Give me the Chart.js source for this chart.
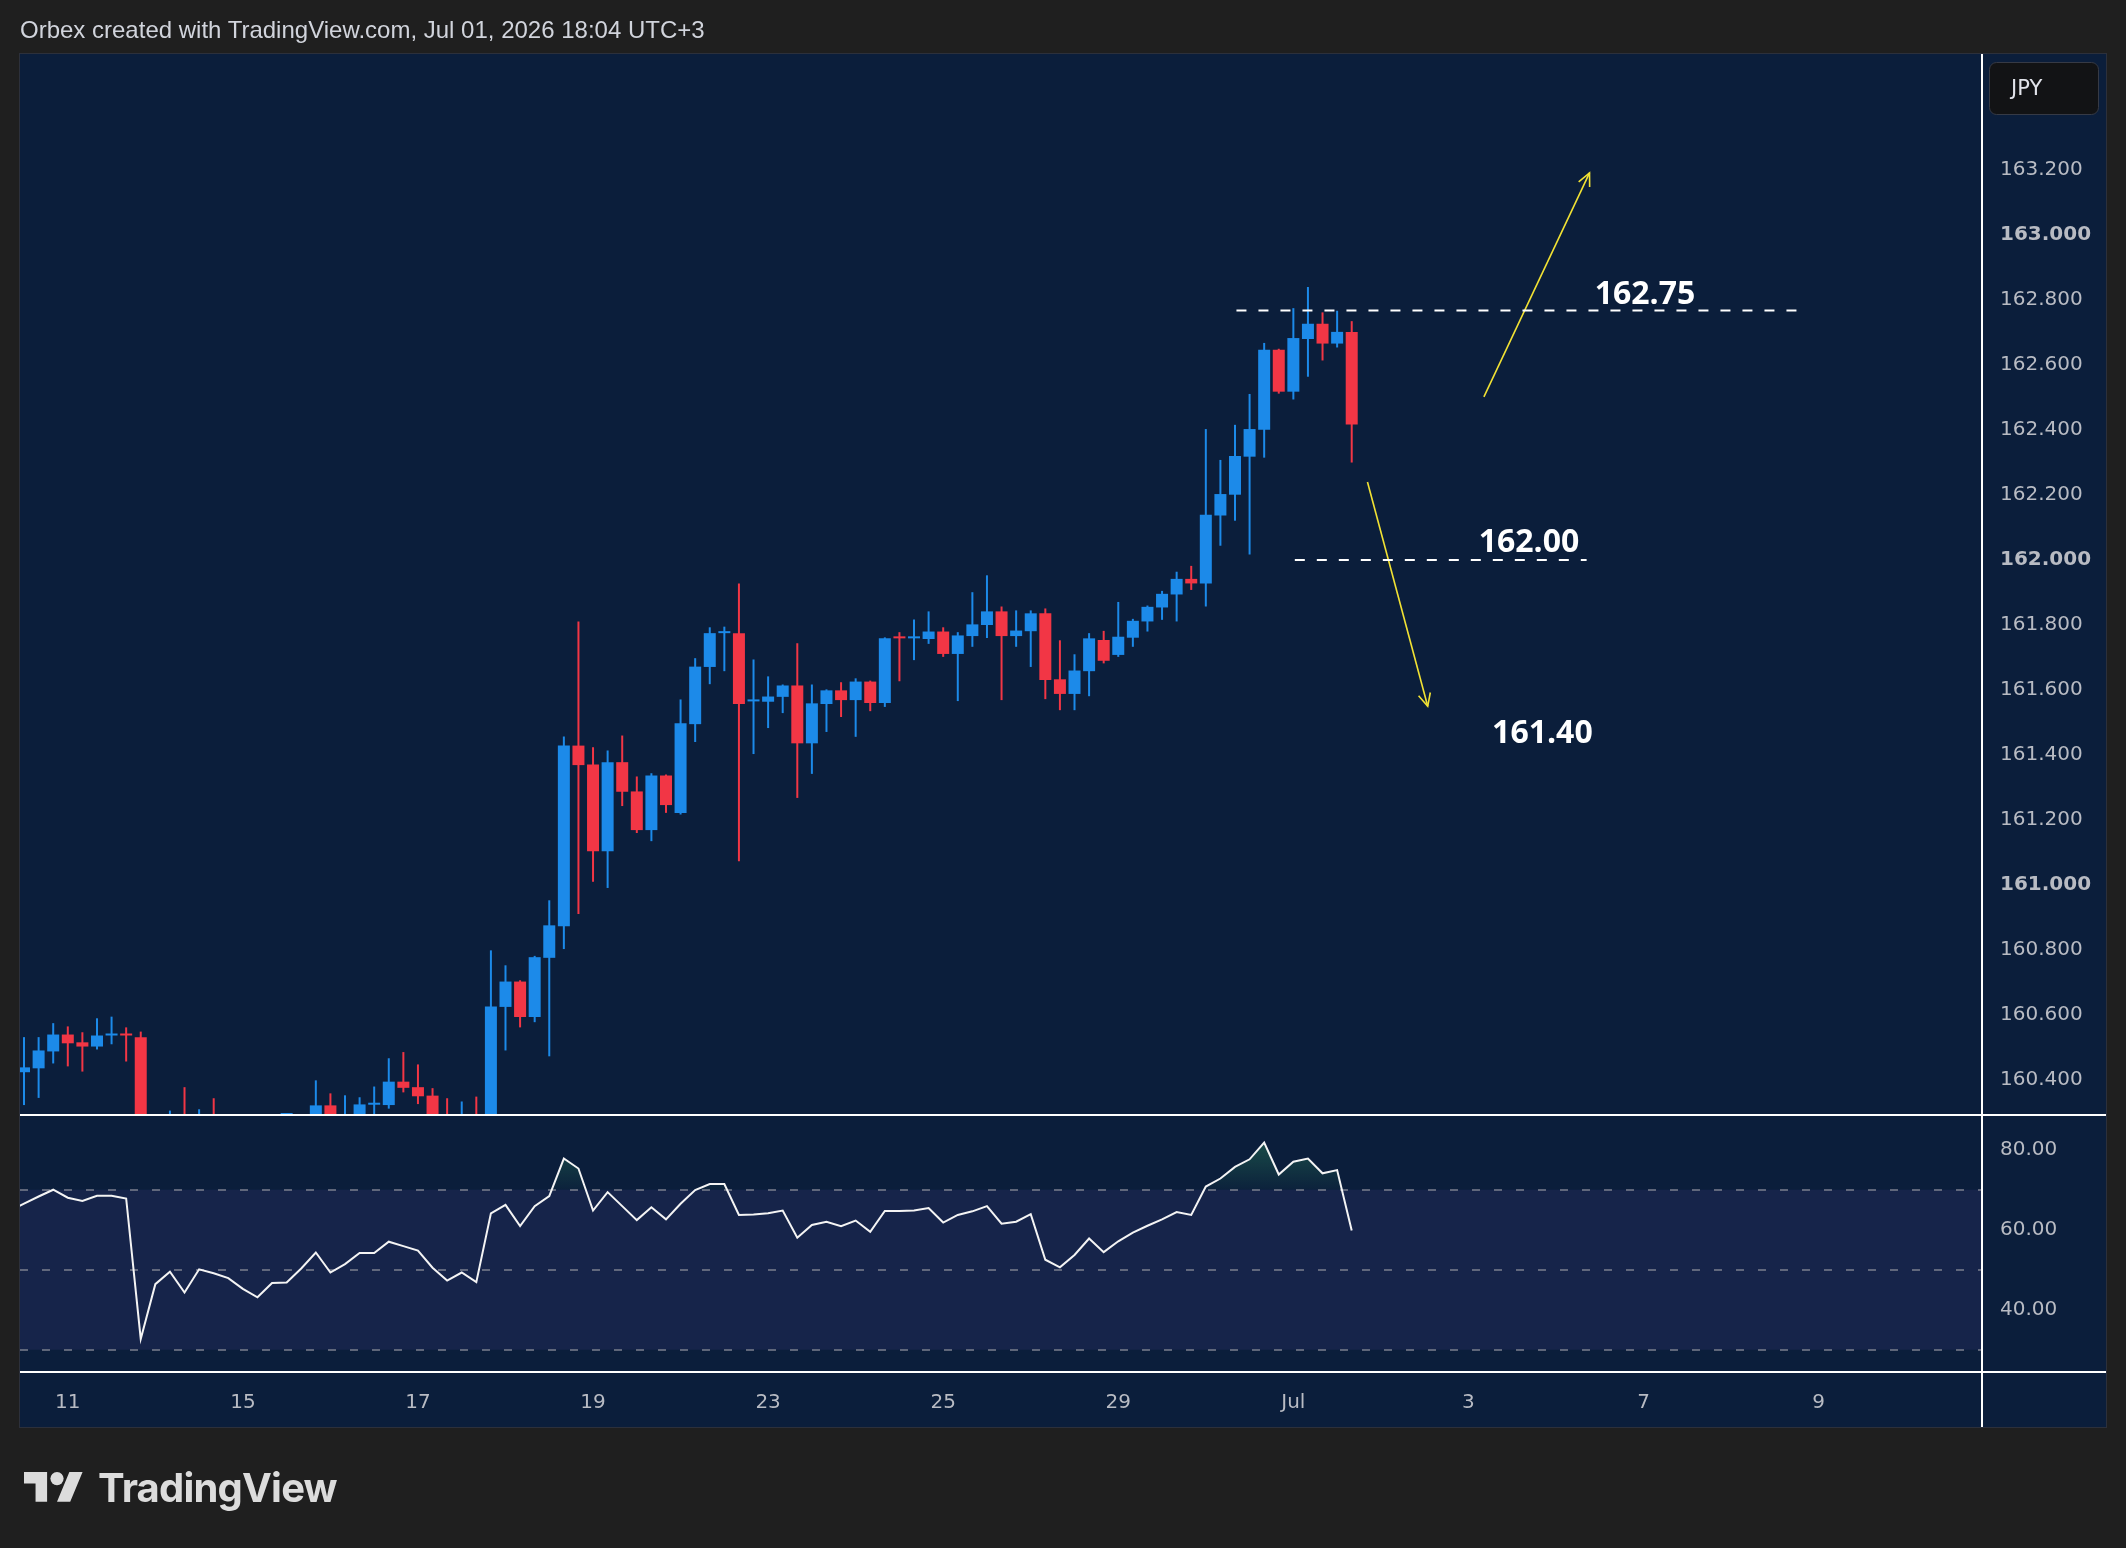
<!DOCTYPE html>
<html>
<head>
<meta charset="utf-8">
<title>JPY 4H</title>
<script src="https://cdn.jsdelivr.net/npm/chart.js@4.4.1/dist/chart.umd.min.js"></script>
<style>
  html, body { margin: 0; padding: 0; width: 2126px; height: 1548px; background: #1f1f1f; overflow: hidden; }
  #pane { position: absolute; left: 20px; top: 54px; width: 2086px; height: 1373px; background: #0b1e3b; box-shadow: 0 0 0 1px #2c303b; }
  #chart { position: absolute; left: 0; top: 0; }
  #overlay { position: absolute; left: 0; top: 0; }
</style>
</head>
<body>
<div id="pane"><canvas id="chart" width="2086" height="1373"></canvas></div>
<svg id="overlay" width="2126" height="1548">
  <text x="20" y="38" font-family="Liberation Sans" font-size="24" fill="#d1d4dc">Orbex created with TradingView.com, Jul 01, 2026 18:04 UTC+3</text>
  <rect x="1989.5" y="62.5" width="109" height="52" rx="7" fill="#121315" stroke="#363a45"/>
  <text x="2011" y="95" font-family="DejaVu Sans" font-size="21" fill="#e1e3ea">JPY</text>
  <g transform="translate(24,1472) scale(1.65) translate(0,-4)" fill="#dcdcdc">
    <path d="M14 22H7V11H0V4h14v18zM28 22h-8l7.5-18h8L28 22z"/>
    <circle cx="20" cy="8" r="4"/>
  </g>
  <text x="98" y="1502" font-family="Inter" font-weight="700" font-size="40" letter-spacing="-0.8" fill="#dcdcdc">TradingView</text>
</svg>
<script>
/**
 * 4H candles with RSI pane, TradingView-style dark navy theme.
 * Bar index 0 is the first 4H bar of Jun 11; six bars per day.
 */

var FIRST_BAR = -3;

var openPrices = [
  160.422, 160.434, 160.486, 160.538, 160.514, 160.501, 160.535, 160.537, 160.530, 160.050,
  160.180, 160.240, 160.150, 160.250, 160.230, 160.200, 160.140, 160.100, 160.170, 160.175,
  160.240, 160.320, 160.230, 160.270, 160.322, 160.321, 160.393, 160.376, 160.350, 160.260,
  160.230, 160.260, 160.240, 160.623, 160.701, 160.592, 160.774, 160.871, 161.427, 161.369,
  161.102, 161.376, 161.286, 161.167, 161.335, 161.220, 161.493, 161.669, 161.773, 161.773,
  161.563, 161.562, 161.577, 161.612, 161.434, 161.555, 161.597, 161.567, 161.624, 161.558,
  161.759, 161.757, 161.755, 161.778, 161.709, 161.764, 161.798, 161.840, 161.764, 161.779,
  161.834, 161.631, 161.586, 161.656, 161.752, 161.706, 161.759, 161.809, 161.852, 161.892,
  161.940, 161.926, 162.135, 162.199, 162.316, 162.399, 162.645, 162.516, 162.678, 162.725,
  162.664, 162.700
];
var highPrices = [
  160.530, 160.530, 160.573, 160.563, 160.545, 160.588, 160.593, 160.560, 160.547, 160.240,
  160.304, 160.376, 160.308, 160.342, 160.270, 160.240, 160.180, 160.210, 160.220, 160.270,
  160.397, 160.357, 160.351, 160.345, 160.378, 160.465, 160.484, 160.446, 160.373, 160.342,
  160.332, 160.347, 160.797, 160.751, 160.705, 160.780, 160.951, 161.455, 161.809, 161.422,
  161.412, 161.458, 161.332, 161.342, 161.338, 161.569, 161.696, 161.791, 161.793, 161.926,
  161.692, 161.640, 161.615, 161.742, 161.615, 161.600, 161.622, 161.634, 161.627, 161.760,
  161.776, 161.815, 161.840, 161.791, 161.776, 161.899, 161.951, 161.855, 161.843, 161.843,
  161.849, 161.751, 161.708, 161.773, 161.780, 161.869, 161.817, 161.858, 161.903, 161.962,
  161.980, 162.401, 162.306, 162.414, 162.509, 162.666, 162.648, 162.773, 162.838, 162.760,
  162.765, 162.733
];
var lowPrices = [
  160.321, 160.343, 160.449, 160.440, 160.424, 160.492, 160.508, 160.455, 160.000, 160.020,
  160.140, 160.120, 160.130, 160.190, 160.160, 160.100, 160.060, 160.080, 160.130, 160.150,
  160.210, 160.200, 160.200, 160.240, 160.293, 160.310, 160.360, 160.324, 160.240, 160.200,
  160.200, 160.210, 160.220, 160.489, 160.560, 160.576, 160.471, 160.801, 160.909, 161.008,
  160.989, 161.241, 161.158, 161.133, 161.220, 161.215, 161.438, 161.616, 161.656, 161.071,
  161.401, 161.481, 161.527, 161.266, 161.340, 161.469, 161.515, 161.454, 161.533, 161.546,
  161.625, 161.690, 161.740, 161.700, 161.564, 161.731, 161.758, 161.567, 161.731, 161.669,
  161.570, 161.536, 161.536, 161.579, 161.680, 161.700, 161.731, 161.778, 161.814, 161.809,
  161.906, 161.855, 162.042, 162.119, 162.015, 162.313, 162.510, 162.492, 162.562, 162.612,
  162.652, 162.298
];
var closePrices = [
  160.437, 160.489, 160.538, 160.511, 160.501, 160.535, 160.537, 160.535, 160.050, 160.180,
  160.240, 160.150, 160.250, 160.230, 160.200, 160.140, 160.100, 160.170, 160.175, 160.240,
  160.320, 160.230, 160.270, 160.323, 160.325, 160.393, 160.374, 160.348, 160.260, 160.230,
  160.260, 160.240, 160.624, 160.701, 160.592, 160.776, 160.874, 161.427, 161.367, 161.102,
  161.376, 161.285, 161.167, 161.335, 161.244, 161.496, 161.670, 161.773, 161.775, 161.555,
  161.565, 161.578, 161.612, 161.434, 161.557, 161.597, 161.567, 161.624, 161.558, 161.757,
  161.757, 161.759, 161.778, 161.709, 161.766, 161.800, 161.840, 161.764, 161.781, 161.834,
  161.629, 161.586, 161.658, 161.757, 161.688, 161.762, 161.811, 161.854, 161.894, 161.940,
  161.926, 162.137, 162.201, 162.318, 162.401, 162.645, 162.516, 162.681, 162.725, 162.664,
  162.700, 162.415
];

// RSI(14), one value per bar starting one bar before the first candle
var RSI_FIRST_BAR = -4;
var rsiValues = [
  64.7, 66.5, 68.3, 70.0, 68.0, 67.2, 68.5, 68.5, 67.8, 32.7,
  46.4, 49.5, 44.3, 50.1, 49.1, 47.9, 45.2, 43.1, 46.7, 46.8,
  50.3, 54.3, 49.3, 51.4, 54.2, 54.2, 57.0, 55.9, 54.8, 50.5,
  47.3, 49.3, 46.9, 64.1, 66.2, 60.9, 65.9, 68.4, 77.8, 75.3,
  64.8, 69.4, 65.9, 62.4, 65.6, 62.6, 66.5, 69.9, 71.4, 71.4,
  63.7, 63.8, 64.1, 64.8, 58.0, 61.2, 62.0, 60.9, 62.3, 59.5,
  64.7, 64.7, 64.8, 65.4, 61.8, 63.7, 64.6, 65.9, 61.5, 62.0,
  63.9, 52.5, 50.6, 53.7, 57.8, 54.4, 57.1, 59.3, 61.0, 62.6,
  64.4, 63.7, 70.8, 72.8, 75.7, 77.6, 81.8, 73.8, 77.0, 77.8,
  74.1, 74.9, 59.8
];

var dayTicks = [0, 12, 24, 36, 48, 60, 72, 84, 96, 108, 120];
var dayLabels = ['11', '15', '17', '19', '23', '25', '29', 'Jul', '3', '7', '9'];
var priceTicks = [160.4, 160.6, 160.8, 161.0, 161.2, 161.4, 161.6, 161.8, 162.0, 162.2, 162.4, 162.6, 162.8, 163.0, 163.2];
var rsiTicks = [40, 60, 80];
var rsiBands = [70, 50, 30];

// drawn levels and notes (bar index / price)
var levelPrices = [162.766, 161.998];
var levelFrom = [80.1, 84.1];
var levelTo = [118.6, 104.1];
var arrowStart = [[97.06, 162.500], [89.08, 162.238]];
var arrowEnd = [[104.3, 163.189], [93.21, 161.548]];
var noteText = ['162.75', '162.00', '161.40'];
var noteBar = [108.1, 100.15, 101.07];
var notePrice = [162.786, 162.022, 161.435];

var X_MIN = -3.276, X_MAX = 131.2;
var PRICE_MIN = 160.2904, PRICE_MAX = 163.555;
var RSI_MIN = 24.43, RSI_MAX = 88.68;

var UP = '#1c8ae9';
var DOWN = '#f23645';
var AXIS_TEXT = '#b8bbc3';
var FONT = 'DejaVu Sans';

function barIndex(k) { return FIRST_BAR + k; }

var bodies = openPrices.map(function (o, k) {
  return { x: barIndex(k), y: [o, closePrices[k]] };
});
var wicks = lowPrices.map(function (l, k) {
  return { x: barIndex(k), y: [l, highPrices[k]] };
});
var candleColors = openPrices.map(function (o, k) {
  return closePrices[k] >= o ? UP : DOWN;
});
var rsiPoints = rsiValues.map(function (v, k) {
  return { x: RSI_FIRST_BAR + k, y: v };
});

function lineSet(points, color, width, dash) {
  return {
    type: 'line',
    data: points,
    yAxisID: 'y',
    borderColor: color,
    borderWidth: width,
    borderDash: dash || [],
    pointRadius: 0,
    fill: false,
    order: -2,
  };
}

var annotationSets = [];
levelPrices.forEach(function (p, k) {
  annotationSets.push(lineSet([{ x: levelFrom[k], y: p }, { x: levelTo[k], y: p }], '#ffffff', 2, [10, 12]));
});
arrowStart.forEach(function (s, k) {
  var e = arrowEnd[k];
  annotationSets.push(lineSet([{ x: s[0], y: s[1] }, { x: e[0], y: e[1] }], '#f2e234', 1.6));
});

function rsiGradient(context) {
  var chart = context.chart;
  var s = chart.scales.rsi;
  var fallback = 'rgba(42,128,88,0.3)';
  if (!s) return fallback;
  var y0 = s.getPixelForValue(84), y1 = s.getPixelForValue(70);
  if (!isFinite(y0) || !isFinite(y1) || y0 === y1) return fallback;
  var g = chart.ctx.createLinearGradient(0, y0, 0, y1);
  g.addColorStop(0, 'rgba(42,128,88,0.55)');
  g.addColorStop(1, 'rgba(42,128,88,0.04)');
  return g;
}

var paneDecor = {
  id: 'paneDecor',
  beforeDatasetsDraw: function (chart) {
    var ctx = chart.ctx, area = chart.chartArea, r = chart.scales.rsi;
    var top = r.getPixelForValue(rsiBands[0]);
    var bottom = r.getPixelForValue(rsiBands[rsiBands.length - 1]);
    ctx.save();
    ctx.fillStyle = '#16244a';
    ctx.fillRect(area.left, top, area.right - area.left, bottom - top);
    ctx.strokeStyle = 'rgba(128,132,145,0.95)';
    ctx.lineWidth = 1.5;
    ctx.setLineDash([8, 14]);
    rsiBands.forEach(function (v) {
      var y = Math.round(r.getPixelForValue(v));
      ctx.beginPath();
      ctx.moveTo(area.left, y);
      ctx.lineTo(area.right, y);
      ctx.stroke();
    });
    ctx.restore();
  },
  // keep every dataset inside its own pane
  beforeDatasetDraw: function (chart, args) {
    var ys = chart.scales[args.meta.yAxisID];
    var area = chart.chartArea;
    chart.ctx.save();
    chart.ctx.beginPath();
    chart.ctx.rect(area.left, ys.top, area.right - area.left, ys.bottom - ys.top);
    chart.ctx.clip();
  },
  afterDatasetDraw: function (chart) {
    chart.ctx.restore();
  },
  afterDatasetsDraw: function (chart) {
    var ctx = chart.ctx, xs = chart.scales.x, ys = chart.scales.y;
    ctx.save();
    // arrow heads
    ctx.strokeStyle = '#f2e234';
    ctx.lineWidth = 1.6;
    arrowEnd.forEach(function (e, k) {
      var s = arrowStart[k];
      var x0 = xs.getPixelForValue(s[0]), y0 = ys.getPixelForValue(s[1]);
      var x1 = xs.getPixelForValue(e[0]), y1 = ys.getPixelForValue(e[1]);
      var a = Math.atan2(y1 - y0, x1 - x0), len = 14, spread = Math.PI / 7;
      ctx.beginPath();
      ctx.moveTo(x1 - len * Math.cos(a - spread), y1 - len * Math.sin(a - spread));
      ctx.lineTo(x1, y1);
      ctx.lineTo(x1 - len * Math.cos(a + spread), y1 - len * Math.sin(a + spread));
      ctx.stroke();
    });
    // price notes
    ctx.fillStyle = '#ffffff';
    ctx.font = 'bold 32px "Open Sans"';
    ctx.textAlign = 'center';
    ctx.textBaseline = 'alphabetic';
    noteText.forEach(function (t, k) {
      ctx.fillText(t, xs.getPixelForValue(noteBar[k]), ys.getPixelForValue(notePrice[k]));
    });
    ctx.restore();
  },
  afterDraw: function (chart) {
    var ctx = chart.ctx, area = chart.chartArea, ys = chart.scales.y;
    ctx.save();
    ctx.strokeStyle = '#ffffff';
    ctx.lineWidth = 2;
    ctx.beginPath();
    ctx.moveTo(0, ys.bottom);
    ctx.lineTo(chart.width, ys.bottom);
    ctx.moveTo(0, area.bottom);
    ctx.lineTo(chart.width, area.bottom);
    ctx.moveTo(area.right, 0);
    ctx.lineTo(area.right, chart.height);
    ctx.stroke();
    ctx.restore();
  },
};

function fixedTicks(values) {
  return function (scale) {
    scale.ticks = values.map(function (v) { return { value: v }; });
  };
}

function sideAxis(min, max, weight, values, digits, order) {
  return {
    type: 'linear',
    position: 'right',
    stack: 'panes',
    stackWeight: weight,
    weight: order,
    min: min,
    max: max,
    grid: { display: false, drawTicks: false },
    border: { display: false },
    afterBuildTicks: fixedTicks(values),
    afterFit: function (s) { s.width = 124; s.paddingTop = 0; s.paddingBottom = 0; },
    ticks: {
      padding: 18,
      color: AXIS_TEXT,
      font: function (c) {
        var v = c.tick ? c.tick.value : 0;
        var round = digits === 3 && Math.abs(v - Math.round(v)) < 1e-6;
        return { family: FONT, size: 20, weight: round ? 'bold' : 'normal' };
      },
      callback: function (v) { return v.toFixed(digits); },
    },
  };
}

var ctx = document.getElementById('chart').getContext('2d');
var chart = new Chart(ctx, {
  type: 'bar',
  data: {
    datasets: [
      {
        label: 'body',
        data: bodies,
        backgroundColor: candleColors,
        barThickness: 12,
        minBarLength: 2,
        grouped: false,
        inflateAmount: 0,
        yAxisID: 'y',
        order: 0,
      },
      {
        label: 'wick',
        data: wicks,
        backgroundColor: candleColors,
        barThickness: 2,
        grouped: false,
        inflateAmount: 0,
        yAxisID: 'y',
        order: 1,
      },
      {
        type: 'line',
        label: 'RSI',
        data: rsiPoints,
        yAxisID: 'rsi',
        borderColor: '#f4f4f4',
        borderWidth: 2,
        pointRadius: 0,
        tension: 0,
        backgroundColor: rsiGradient,
        fill: { target: { value: 70 }, below: 'rgba(0,0,0,0)' },
        order: 0,
      },
    ].concat(annotationSets),
  },
  options: {
    responsive: false,
    animation: false,
    layout: { padding: 0 },
    plugins: { legend: { display: false }, tooltip: { enabled: false } },
    scales: {
      x: {
        type: 'linear',
        position: 'bottom',
        min: X_MIN,
        max: X_MAX,
        offset: false,
        grid: { display: false, drawTicks: false },
        border: { display: false },
        afterBuildTicks: fixedTicks(dayTicks),
        afterFit: function (s) { s.height = 55; s.paddingLeft = 0; s.paddingRight = 0; },
        ticks: {
          autoSkip: false,
          maxRotation: 0,
          padding: 19,
          color: AXIS_TEXT,
          font: { family: FONT, size: 20 },
          callback: function (v) { return dayLabels[dayTicks.indexOf(v)]; },
        },
      },
      y: sideAxis(PRICE_MIN, PRICE_MAX, 1061, priceTicks, 3, 1),
      rsi: sideAxis(RSI_MIN, RSI_MAX, 257, rsiTicks, 2, 2),
    },
  },
  plugins: [paneDecor],
});
</script>
</body>
</html>
